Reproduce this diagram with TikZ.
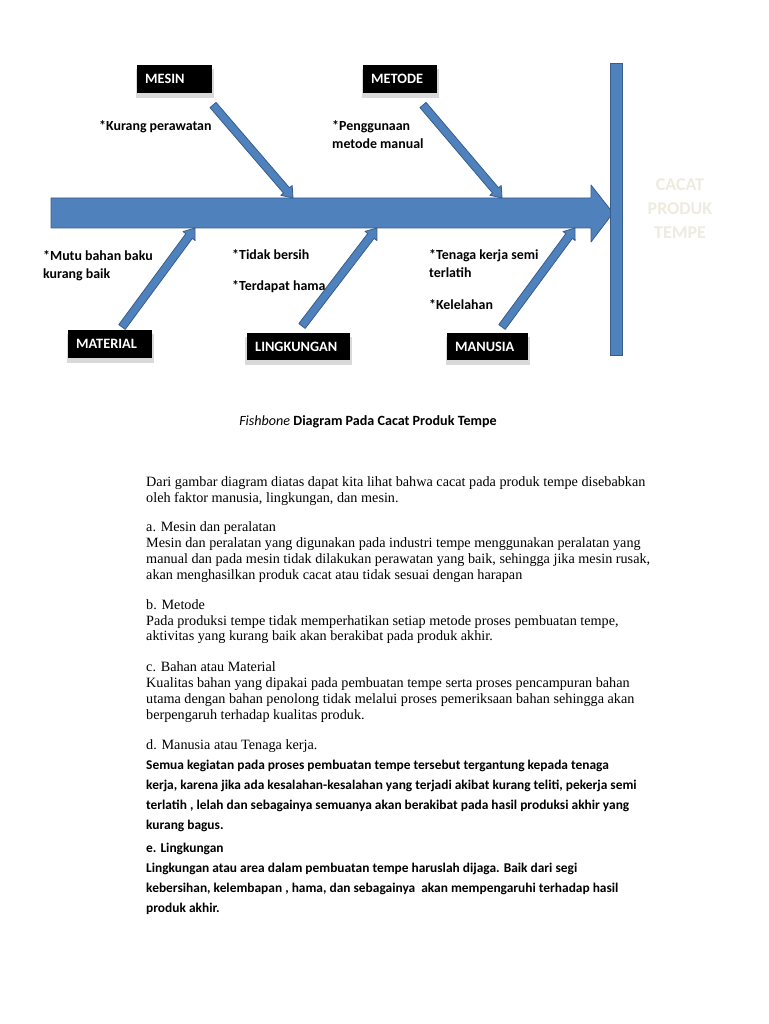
\documentclass[tikz,border=0pt]{standalone}
\usepackage{fontspec}
\setmainfont{Liberation Serif}
\newfontfamily\calfont{Carlito}
\usetikzlibrary{calc, shadows}
\definecolor{boneblue}{HTML}{4F81BD}
\definecolor{boneline}{HTML}{385D8A}
\definecolor{pale}{HTML}{EEEBE0}
\newcommand{\bone}[2]{%
  \coordinate (h) at ($(#2)!10pt!(#1)$);
  \filldraw[fill=boneblue, draw=boneline, line width=.8pt, line join=round]
    ($(#1)!4pt!90:(#2)$) -- ($(h)!4pt!-90:(#1)$) -- ($(h)!7.5pt!-90:(#1)$) -- (#2)
    -- ($(h)!7.5pt!90:(#1)$) -- ($(h)!4pt!90:(#1)$) -- ($(#1)!4pt!-90:(#2)$) -- cycle;
}

\begin{document}
\begin{tikzpicture}[x=1pt, y=-1pt,
    faktor/.style={fill=black, text=white, font=\calfont\bfseries\fontsize{14.3}{15}\selectfont,
        anchor=north west, minimum height=28pt, text width=#1, inner xsep=8pt, align=left,
        general shadow={fill=black!15, shadow yshift=-4pt, shadow scale=1.04}},
    sebab/.style={anchor=base west, inner sep=0pt, font=\calfont\bfseries\fontsize{13.9}{15}\selectfont},
    isi/.style={anchor=base west, inner sep=0pt, font=\fontsize{14.2}{16}\selectfont},
    isib/.style={anchor=base west, inner sep=0pt, font=\calfont\bfseries\fontsize{13.4}{16}\selectfont}]
\fill[white] (0,0) rectangle (768,1024);
\useasboundingbox (0,0) rectangle (768,1024);

% spine and head
\filldraw[fill=boneblue, draw=boneline, line width=.8pt, line join=round]
  (51,198) -- (591,198) -- (591,185) -- (613,213) -- (591,242) -- (591,228) -- (51,228) -- cycle;
\filldraw[fill=boneblue, draw=boneline, line width=.8pt] (610,63) rectangle (622,355);
\node[font=\calfont\bfseries\fontsize{18}{24}\selectfont, text=pale, align=center] (efek) at (680,209)
  {CACAT\\PRODUK\\TEMPE};

% categories
\node[faktor=59pt] (mesin) at (137,65) {MESIN};
\node[faktor=58pt] (metode) at (363,65) {METODE};
\node[faktor=68pt] (material) at (68,330) {MATERIAL};
\node[faktor=87pt, minimum height=27pt] (lingkungan) at (247,333) {LINGKUNGAN};
\node[faktor=65pt, minimum height=27pt] (manusia) at (447,333) {MANUSIA};

\coordinate (mesinS) at (213,105);  \coordinate (mesinE) at (293,198);
\coordinate (metodeS) at (423,105); \coordinate (metodeE) at (502,198);
\coordinate (materialS) at (122,327);   \coordinate (materialE) at (195,228);
\coordinate (lingkunganS) at (302,326); \coordinate (lingkunganE) at (377,228);
\coordinate (manusiaS) at (502,327);    \coordinate (manusiaE) at (575,228);
\foreach \b in {mesin, metode, material, lingkungan, manusia}
  {\bone{\b S}{\b E}}

% causes
\node[sebab] (k1) at (99,131) {*Kurang perawatan};
\node[sebab] (m1) at (332,131) {*Penggunaan};
\node[sebab] (m2) at (332,149) {metode manual};
\node[sebab] (b1) at (43,260) {*Mutu bahan baku};
\node[sebab] (b2) at (43,278) {kurang baik};
\node[sebab] (l1) at (232,259) {*Tidak bersih};
\node[sebab] (l2) at (232,290) {*Terdapat hama};
\node[sebab] (t1) at (429,259) {*Tenaga kerja semi};
\node[sebab] (t2) at (429,277) {terlatih};
\node[sebab] (t3) at (429,309) {*Kelelahan};

\node[font=\calfont\bfseries\fontsize{14.1}{15}\selectfont] (judul) at (368,422)
  {{\mdseries\itshape Fishbone} Diagram Pada Cacat Produk Tempe};

% text below
\foreach \y/\teks [count=\i] in {
  486/{Dari gambar diagram diatas dapat kita lihat bahwa cacat pada produk tempe disebabkan},
  502/{oleh faktor manusia, lingkungan, dan mesin.},
  531/{a. Mesin dan peralatan},
  547/{Mesin dan peralatan yang digunakan pada industri tempe menggunakan peralatan yang},
  563/{manual dan pada mesin tidak dilakukan perawatan yang baik, sehingga jika mesin rusak,},
  579/{akan menghasilkan produk cacat atau tidak sesuai dengan harapan},
  609/{b. Metode},
  625/{Pada produksi tempe tidak memperhatikan setiap metode proses pembuatan tempe,},
  640/{aktivitas yang kurang baik akan berakibat pada produk akhir.},
  671/{c. Bahan atau Material},
  687/{Kualitas bahan yang dipakai pada pembuatan tempe serta proses pencampuran bahan},
  703/{utama dengan bahan penolong tidak melalui proses pemeriksaan bahan sehingga akan},
  719/{berpengaruh terhadap kualitas produk.},
  749/{d. Manusia atau Tenaga kerja.}}
  \node[isi] (s\i) at (146,\y) {\teks};
\foreach \y/\teks [count=\i] in {
  769/{Semua kegiatan pada proses pembuatan tempe tersebut tergantung kepada tenaga},
  789/{kerja, karena jika ada kesalahan-kesalahan yang terjadi akibat kurang teliti, pekerja semi},
  809/{terlatih , lelah dan sebagainya semuanya akan berakibat pada hasil produksi akhir yang},
  829/{kurang bagus.},
  852/{e. Lingkungan},
  872/{Lingkungan atau area dalam pembuatan tempe haruslah dijaga. Baik dari segi},
  892/{kebersihan, kelembapan , hama, dan sebagainya\ \ akan mempengaruhi terhadap hasil},
  912/{produk akhir.}}
  \node[isib] (c\i) at (146,\y) {\teks};
\end{tikzpicture}
\end{document}
